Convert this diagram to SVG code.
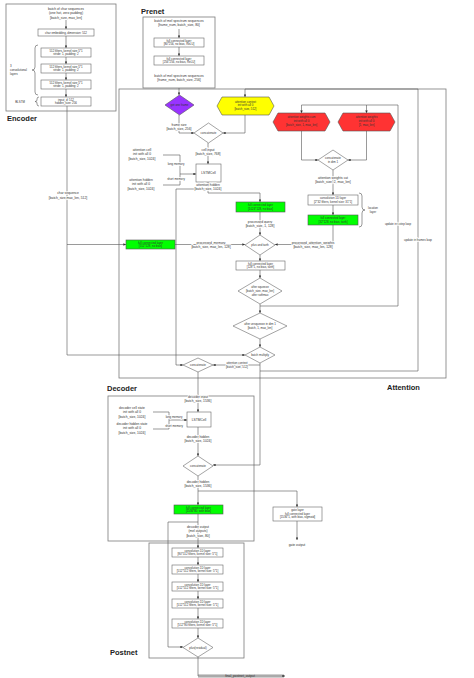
<svg xmlns="http://www.w3.org/2000/svg" width="474" height="678" viewBox="0 0 474 678">
<style>
.c{fill:none;stroke:#7a7a7a;stroke-width:0.8}
.b{fill:#fff;stroke:#666;stroke-width:0.6}
.g{fill:#00ff00;stroke:#555;stroke-width:0.6}
.l{fill:none;stroke:#555;stroke-width:0.6}
.a{fill:none;stroke:#555;stroke-width:0.6;marker-end:url(#ah)}
.t{font-family:"Liberation Sans",Arial,sans-serif;font-size:3.3px;fill:#333;text-anchor:middle}
.s{font-family:"Liberation Sans",Arial,sans-serif;font-size:2.9px;fill:#333;text-anchor:middle}
.q{paint-order:stroke;stroke:#fff;stroke-width:1.4px;stroke-linejoin:round}
.h{font-family:"Liberation Sans",Arial,sans-serif;font-size:7.5px;font-weight:bold;fill:#222}
</style>
<defs>
<marker id="ah" viewBox="0 0 4 4" refX="4" refY="2" markerWidth="2.6" markerHeight="2.6" markerUnits="userSpaceOnUse" orient="auto"><path d="M0,0 L4,2 L0,4 z" fill="#333"/></marker>
</defs>
<rect width="474" height="678" fill="#fff"/>

<g id="containers">
<rect class="c" x="6" y="4" width="110" height="107"/>
<text class="h" x="7" y="121">Encoder</text>
<rect class="c" x="143" y="17" width="72" height="71"/>
<text class="h" x="141" y="14">Prenet</text>
<rect class="c" x="119" y="89" width="327" height="289"/>
<text class="h" x="387" y="390">Attention</text>
<rect class="c" x="108" y="396" width="146" height="145"/>
<text class="h" x="107" y="391">Decoder</text>
<rect class="c" x="149" y="543" width="95" height="115"/>
<text class="h" x="110" y="655">Postnet</text>
</g>

<g id="connectors">
<path class="a" d="M66,20 L66,29"/>
<path class="a" d="M66,36 L66,48"/>
<path class="a" d="M66,57 L66,64"/>
<path class="a" d="M66,73 L66,80"/>
<path class="a" d="M66,89 L66,97"/>
<path class="a" d="M67,106 L67,355 L245,355"/>
<path class="a" d="M67,244.5 L126,244.5"/>
<path class="a" d="M179,29 L179,38"/>
<path class="a" d="M179,47 L179,56"/>
<path class="a" d="M179,88 L179,95"/>
<path class="a" d="M179,115 L179,133 L194,133"/>
<path class="a" d="M245,115 L245,133 L223,133"/>
<path class="a" d="M208,143 L208,164"/>
<path class="l" d="M163,155 L180,155 L180,174"/>
<path class="l" d="M163,185 L180,185 L180,174"/>
<path class="a" d="M180,174 L196,174"/>
<path class="a" d="M208,182 L208,193 L260,193 L260,202"/>
<path class="a" d="M208,189 L176,189 L176,365 L183,365"/>
<path class="a" d="M260,212 L260,235"/>
<path class="a" d="M175,244.5 L245,244.5"/>
<path class="a" d="M301.5,131 L301.5,160 L318,160"/>
<path class="a" d="M366.5,131 L366.5,160 L348,160"/>
<path class="a" d="M333,170 L333,195"/>
<path class="a" d="M333,205 L333,215"/>
<path class="a" d="M333,225 L333,244.5 L275,244.5"/>
<path class="a" d="M260,255 L260,261"/>
<path class="a" d="M260,270 L260,278"/>
<path class="a" d="M260,304 L260,313"/>
<path class="a" d="M260,306 L398,306 L398,105 L366.5,105 L366.5,113"/>
<path class="a" d="M366.5,105 L301.5,105 L301.5,113"/>
<path class="a" d="M260,339 L260,347"/>
<path class="a" d="M260,363 L260,465 L213,465"/>
<path class="a" d="M260,365 L213,365"/>
<path class="a" d="M260,371 L418,371 L418,89 L245,89 L245,97"/>
<path class="a" d="M198,372 L198,412"/>
<path class="l" d="M153,412 L169,412 L169,420"/>
<path class="l" d="M153,429 L169,429 L169,420"/>
<path class="a" d="M169,420 L187,420"/>
<path class="a" d="M198,427 L198,456"/>
<path class="a" d="M198,476 L198,505"/>
<path class="a" d="M198,491 L297,491 L297,507"/>
<path class="a" d="M297,521 L297,540"/>
<path class="a" d="M198,514 L198,548"/>
<path class="a" d="M198,522 L168,522 L168,647 L183,647"/>
<path class="a" d="M198,557 L198,565"/>
<path class="a" d="M198,574 L198,582"/>
<path class="a" d="M198,591 L198,599"/>
<path class="a" d="M198,608 L198,619"/>
<path class="a" d="M198,628 L198,638"/>
<rect x="198" y="674" width="86" height="4" fill="#cfcfcf"/>
<path class="a" d="M198,657 L198,676 L285,676"/>
<path class="l" d="M38,45 Q35,45 35,48 L35,67 Q35,70 32,70 Q35,70 35,73 L35,92 Q35,95 38,95"/>
<path class="l" d="M39,97 Q37,97 37,99 L37,100 Q37,101.5 35,101.5 Q37,101.5 37,103 L37,104 Q37,106 39,106"/>
<path class="l" d="M359,193 Q362,193 362,196 L362,207 Q362,210 365,210 Q362,210 362,213 L362,224 Q362,227 359,227"/>
</g>

<g id="encoder-input"><text class="t" x="66" y="9.5">batch of char sequences</text><text class="t" x="66" y="14">(one hot, zero padding)</text><text class="t" x="66" y="18.5">[batch_size, max_len]</text></g>
<g id="char-embedding"><rect class="b" x="38" y="29" width="56" height="7"/><text class="s" x="66" y="33.5">char embedding, dimension: 512</text></g>
<g id="conv1"><rect class="b" x="41" y="48" width="50" height="9"/><text class="s" x="66" y="51.8">512 filters, kernel size 5*1</text><text class="s" x="66" y="55.4">stride: 1, padding: 2</text></g>
<g id="conv2"><rect class="b" x="41" y="64" width="50" height="9"/><text class="s" x="66" y="67.8">512 filters, kernel size 5*1</text><text class="s" x="66" y="71.4">stride: 1, padding: 2</text></g>
<g id="conv3"><rect class="b" x="41" y="80" width="50" height="9"/><text class="s" x="66" y="83.8">512 filters, kernel size 5*1</text><text class="s" x="66" y="87.4">stride: 1, padding: 2</text></g>
<g id="conv-label"><text class="s" x="10" y="67" style="text-anchor:start">3</text><text class="s" x="10" y="71" style="text-anchor:start">convolutional</text><text class="s" x="10" y="75" style="text-anchor:start">layers</text></g>
<g id="blstm"><rect class="b" x="41" y="97" width="50" height="9"/><text class="s" x="66" y="100.8">input_d: 512</text><text class="s" x="66" y="104.4">hidden_size: 256</text><text class="s" x="20" y="102.5">BLSTM</text></g>
<g id="char-seq-label"><text class="t q" x="68" y="194">char sequence</text><text class="t q" x="68" y="198.5">[batch_size,max_len, 512]</text></g>

<g id="prenet-input"><text class="t" x="179" y="22">batch of mel spectrum sequences</text><text class="t" x="179" y="26.3">[frame_num, batch_size, 80]</text></g>
<g id="prenet-fc1"><rect class="b" x="154" y="38" width="50" height="9"/><text class="s" x="179" y="41.8">full connected layer</text><text class="s" x="179" y="45.4">[80*256, no bias, ReLU]</text></g>
<g id="prenet-fc2"><rect class="b" x="154" y="56" width="50" height="9"/><text class="s" x="179" y="59.8">full connected layer</text><text class="s" x="179" y="63.4">[256*256, no bias, ReLU]</text></g>
<g id="prenet-output"><text class="t" x="179" y="77">batch of mel spectrum sequences</text><text class="t" x="179" y="81.3">[frame_num, batch_size, 256]</text></g>

<g id="get-one-frame"><polygon points="179.5,95 194,105 179.5,115 165,105" fill="#9933ff" stroke="#555" stroke-width="0.6"/><text class="s" x="179.5" y="106">get one frame</text></g>
<g id="frame-size"><text class="t q" x="179" y="125.5">frame size</text><text class="t q" x="179" y="129.8">[batch_size, 256]</text></g>
<g id="attention-context-init"><polygon points="217,106 222,97 269,97 274,106 269,115 222,115" fill="#ffff00" stroke="#555" stroke-width="0.6"/><text class="s" x="245.5" y="102.5">attention context</text><text class="s" x="245.5" y="106.3">init with all 0</text><text class="s" x="245.5" y="110.1">[batch_size, 512]</text></g>
<g id="concat-cell"><polygon points="208.5,123 223,133 208.5,143 194,133" class="b"/><text class="s" x="208.5" y="134">concatenate</text></g>
<g id="cell-input"><text class="t q" x="208" y="150.5">cell input</text><text class="t q" x="208" y="154.8">[batch_size, 768]</text></g>
<g id="attention-cell"><text class="t" x="142" y="150.5">attention cell</text><text class="t" x="142" y="155">init with all 0</text><text class="t" x="142" y="159.5">[batch_size, 1024]</text></g>
<g id="attention-hidden-init"><text class="t" x="141" y="180.5">attention hidden</text><text class="t" x="141" y="185">init with all 0</text><text class="t" x="141" y="189.5">[batch_size, 1024]</text></g>
<g id="att-memory-labels"><text class="s q" x="176" y="165">long memory</text><text class="s q" x="176" y="180">short memory</text></g>
<g id="attention-lstm"><rect class="b" x="196" y="164" width="25" height="18"/><text class="t" x="208.5" y="174">LSTMCell</text></g>
<g id="attention-hidden"><text class="t q" x="208" y="186">attention hidden</text><text class="t q" x="208" y="190">[batch_size, 1024]</text></g>
<g id="query-fc"><rect class="g" x="236" y="202" width="49" height="10"/><text class="s" x="260.5" y="206.3">full connected layer</text><text class="s" x="260.5" y="210">[1024*128, no bias]</text></g>
<g id="processed-query"><text class="t q" x="260" y="222.5">processed query</text><text class="t q" x="260" y="226.8">[batch_size, 1, 128]</text></g>
<g id="memory-fc"><rect class="g" x="126" y="240" width="49" height="9"/><text class="s" x="150.5" y="243.8">full connected layer</text><text class="s" x="150.5" y="247.4">[512*128, no bias]</text></g>
<g id="processed-memory"><text class="t q" x="211" y="243.5">processed_memory</text><text class="t q" x="211" y="247.8">[batch_size, max_len, 128]</text></g>
<g id="plus-tanh"><polygon points="260,235 275,245 260,255 245,245" class="b"/><text class="s" x="260" y="246">plus and tanh</text></g>
<g id="weights-cum"><polygon points="273,122 278,113 325,113 330,122 325,131 278,131" fill="#ff3333" stroke="#555" stroke-width="0.6"/><text class="s" x="301.5" y="118.3">attention weights cum</text><text class="s" x="301.5" y="122.3">init with all 0</text><text class="s" x="301.5" y="126.3">[batch_size, 1, max_len]</text></g>
<g id="weights"><polygon points="338,122 343,113 390,113 395,122 390,131 343,131" fill="#ff3333" stroke="#555" stroke-width="0.6"/><text class="s" x="366.5" y="118.3">attention weights</text><text class="s" x="366.5" y="122.3">init with all 0</text><text class="s" x="366.5" y="126.3">[1, max_len]</text></g>
<g id="concat-dim1"><polygon points="333,150 348,160 333,170 318,160" class="b"/><text class="s" x="333" y="159.3">concatenate</text><text class="s" x="333" y="162.8">in dim 1</text></g>
<g id="weights-cat"><text class="t q" x="333" y="178.5">attention weights cat</text><text class="t q" x="333" y="182.8">[batch_size, 2, max_len]</text></g>
<g id="location-conv"><rect class="b" x="308" y="195" width="50" height="10"/><text class="s" x="333" y="199.3">convolution 1D layer</text><text class="s" x="333" y="203">[2*32 filters, kernel size: 31*1]</text></g>
<g id="location-fc"><rect class="g" x="308" y="215" width="50" height="10"/><text class="s" x="333" y="219.3">full connected layer</text><text class="s" x="333" y="223">[32*128, no bias, tanh]</text></g>
<g id="location-label"><text class="s" x="373" y="209" >location</text><text class="s" x="373" y="213">layer</text></g>
<g id="processed-weights"><text class="t q" x="313" y="243.5">processed_attention_weights</text><text class="t q" x="313" y="247.8">[batch_size, max_len, 128]</text></g>
<g id="energy-fc"><rect class="b" x="236" y="261" width="49" height="9"/><text class="s" x="260.5" y="264.8">full connected layer</text><text class="s" x="260.5" y="268.4">[128*1, no bias, tanh]</text></g>
<g id="after-squeeze"><polygon points="260,278 282,291 260,304 238,291" class="b"/><text class="s" x="260" y="288.3">after squeeze</text><text class="s" x="260" y="292">[batch_size, max_len]</text><text class="s" x="260" y="295.7">after softmax</text></g>
<g id="after-unsqueeze"><polygon points="260,313 287,326 260,339 233,326" class="b"/><text class="s" x="260" y="325">after unsqueeze in dim 1</text><text class="s" x="260" y="328.7">[batch, 1, max_len]</text></g>
<g id="batch-multiply"><polygon points="260,347 275,355 260,363 245,355" class="b"/><text class="s" x="260" y="356">batch multiply</text></g>
<g id="attention-context"><text class="s q" x="237" y="364">attention context</text><text class="s q" x="237" y="367.6">[batch_size, 512]</text></g>
<g id="loop-labels"><text class="s q" x="398" y="225">update in t-step loop</text><text class="s q" x="418" y="241">update in frames loop</text></g>

<g id="concat-decoder"><polygon points="198,358 213,365 198,372 183,365" class="b"/><text class="s" x="198" y="366">concatenate</text></g>
<g id="decoder-input"><text class="t q" x="198" y="397.5">decoder input</text><text class="t q" x="198" y="401.8">[batch_size, 1536]</text></g>
<g id="decoder-cell"><text class="t" x="132" y="408.5">decoder cell state</text><text class="t" x="132" y="413">init with all 0</text><text class="t" x="132" y="417.5">[batch_size, 1024]</text></g>
<g id="decoder-hidden-init"><text class="t" x="132" y="424.5">decoder hidden state</text><text class="t" x="132" y="429">init with all 0</text><text class="t" x="132" y="433.5">[batch_size, 1024]</text></g>
<g id="dec-memory-labels"><text class="s q" x="174" y="418">long memory</text><text class="s q" x="174" y="427">short memory</text></g>
<g id="decoder-lstm"><rect class="b" x="187" y="412" width="24" height="15"/><text class="t" x="199" y="420.8">LSTMCell</text></g>
<g id="decoder-hidden"><text class="t q" x="198" y="437.5">decoder hidden</text><text class="t q" x="198" y="441.8">[batch_size, 1024]</text></g>
<g id="concat-decoder2"><polygon points="198,456 213,466 198,476 183,466" class="b"/><text class="s" x="198" y="467">concatenate</text></g>
<g id="decoder-hidden2"><text class="t q" x="198" y="482.5">decoder hidden</text><text class="t q" x="198" y="486.8">[batch_size, 1536]</text></g>
<g id="mel-fc"><rect class="g" x="174" y="505" width="49" height="9"/><text class="s" x="198.5" y="508.8">full connected layer</text><text class="s" x="198.5" y="512.4">[1536*80, with bias]</text></g>
<g id="gate-layer"><rect class="b" x="273" y="507" width="49" height="14"/><text class="s" x="297.5" y="511">gate layer</text><text class="s" x="297.5" y="514.6">full connected layer</text><text class="s" x="297.5" y="518.2">[1536*1, with bias, sigmoid]</text></g>
<g id="gate-output"><text class="t q" x="297" y="546">gate output</text></g>
<g id="decoder-output"><text class="t q" x="198" y="527.5">decoder output</text><text class="t q" x="198" y="532">(mel outputs)</text><text class="t q" x="198" y="536.5">[batch_size, 80]</text></g>

<g id="post-conv1"><rect class="b" x="172" y="548" width="51" height="9"/><text class="s" x="197.5" y="551.8">convolution 1D layer</text><text class="s" x="197.5" y="555.4">[80*512 filters, kernel size: 5*1]</text></g>
<g id="post-conv2"><rect class="b" x="172" y="565" width="51" height="9"/><text class="s" x="197.5" y="568.8">convolution 1D layer</text><text class="s" x="197.5" y="572.4">[512*512 filters, kernel size: 5*1]</text></g>
<g id="post-conv3"><rect class="b" x="172" y="582" width="51" height="9"/><text class="s" x="197.5" y="585.8">convolution 1D layer</text><text class="s" x="197.5" y="589.4">[512*512 filters, kernel size: 5*1]</text></g>
<g id="post-conv4"><rect class="b" x="172" y="599" width="51" height="9"/><text class="s" x="197.5" y="602.8">convolution 1D layer</text><text class="s" x="197.5" y="606.4">[512*512 filters, kernel size: 5*1]</text></g>
<g id="post-conv5"><rect class="b" x="172" y="619" width="51" height="9"/><text class="s" x="197.5" y="622.8">convolution 1D layer</text><text class="s" x="197.5" y="626.4">[512*80 filters, kernel size: 5*1]</text></g>
<g id="residual"><polygon points="198,638 213,647.5 198,657 183,647.5" class="b"/><text class="s" x="198" y="648.5">plus(residual)</text></g>
<g id="final-output"><text class="t" x="240" y="677">final_postnet_output</text></g>
</svg>
